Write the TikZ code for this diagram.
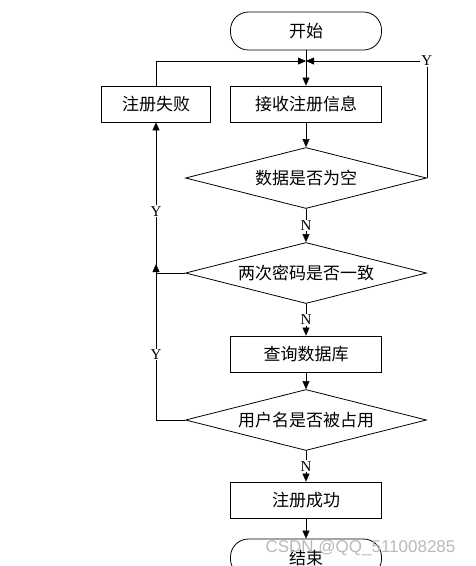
\documentclass[tikz,border=0pt]{standalone}
\usepackage{fontspec}
\setmainfont{Liberation Serif}
\newfontfamily\cjk{Noto Sans CJK SC}
\newfontfamily\wmfont{Liberation Sans}
\usetikzlibrary{shapes.geometric, arrows.meta}

\begin{document}
\begin{tikzpicture}[x=1pt, y=-1pt, >={Triangle[length=8pt,width=7pt]}]
% Define the node styles
\tikzstyle{block} = [draw, line width=0.8pt, minimum width=151pt, minimum height=36pt, inner sep=0pt, font=\cjk\fontsize{17}{19}\selectfont]
\tikzstyle{process} = [block, rectangle]
\tikzstyle{terminal} = [block, rectangle, rounded corners=18pt, minimum height=38pt]
\tikzstyle{decision} = [block, diamond, aspect=4, minimum width=241pt, minimum height=61pt]
\tikzstyle{answer} = [fill=white, inner sep=1pt, font=\fontsize{15}{17}\selectfont]

\useasboundingbox (0,0) rectangle (475,566);

% Define the nodes
\node[terminal] (start) at (306,31) {开始};
\node[process] (input) at (306,104) {接收注册信息};
\node[process, minimum width=109pt] (fail) at (156,104) {注册失败};
\node[decision] (empty) at (306,178) {数据是否为空};
\node[decision] (pwd) at (306,273) {两次密码是否一致};
\node[process] (query) at (306,354) {查询数据库};
\node[decision] (used) at (306,420) {用户名是否被占用};
\node[process] (ok) at (306,500) {注册成功};
\node[terminal] (end) at (306,558) {结束};

\coordinate (merge) at (306,61);
\coordinate (back) at (156,264);

% Define the transitions
\draw[->] (start) -- (input);
\draw[->] (input) -- (empty);
\draw[->] (empty) -- node[answer] {N} (pwd);
\draw[->] (pwd) -- node[answer] {N} (query);
\draw[->] (query) -- (used);
\draw[->] (used) -- node[answer] {N} (ok);
\draw[->] (ok) -- (end);

% Add the loops back to the input
\draw[->] (fail.north) |- (merge);
\draw[->] (empty.east) |- node[answer] {Y} (merge);
\draw[->] (pwd.west) -- (back |- pwd.west) -- node[answer, pos=0.41] {Y} (fail.south);
\draw[->] (used.west) -- (back |- used.west) -- node[answer, pos=0.42] {Y} (back);

\node[anchor=west, text=gray!55, font=\wmfont\fontsize{17}{19}\selectfont] (watermark) at (262,548) {CSDN @QQ\_511008285};

\end{tikzpicture}
\end{document}
